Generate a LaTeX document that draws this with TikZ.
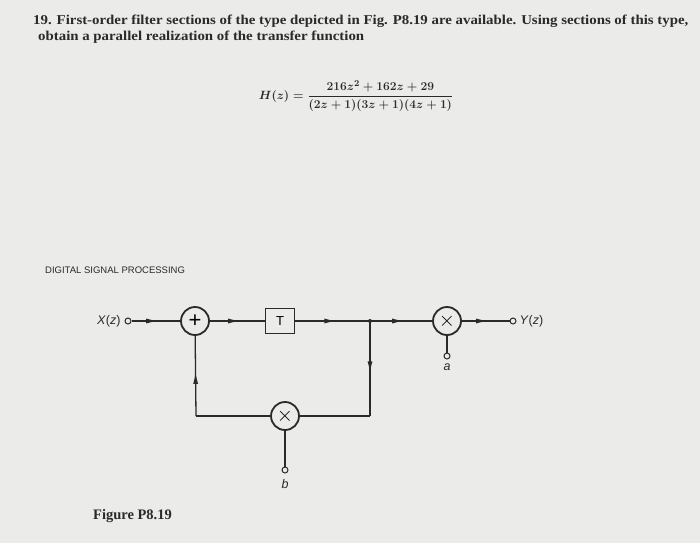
\documentclass[tikz,border=0pt]{standalone}
\usepackage{fontspec}
\setmainfont{Liberation Serif}
\newfontfamily\sansf{Liberation Sans}
\newfontfamily\hdr[FakeStretch=1.1]{Liberation Serif}
\usetikzlibrary{arrows.meta,decorations.markings}
\definecolor{bg}{HTML}{EBEBEA}
\definecolor{ink}{HTML}{2A2A2A}
\tikzset{
  op/.style={circle,draw=ink,line width=1.8pt,minimum size=28pt,inner sep=0pt,font=\sansf\fontsize{22}{22}\selectfont},
  dbox/.style={draw=ink,line width=1.4pt,minimum width=29pt,minimum height=25pt,font=\sansf\fontsize{13}{13}\selectfont},
  term/.style={circle,draw=ink,line width=1pt,minimum size=6pt,inner sep=0pt},
  wire/.style={draw=ink,line width=1.3pt},
  flow/.style={wire,postaction={decorate},decoration={markings,mark=at position 0.55 with {\arrow{Latex[length=12pt,width=5pt,open]}}}},
  lbl/.style={font=\sansf\fontsize{12.5}{13}\selectfont,text=ink},
  hd/.style={anchor=west,font=\hdr\bfseries\fontsize{13.5}{14}\selectfont,text=ink,inner sep=0},
  eqf/.style={font=\fontsize{12.8}{15}\selectfont\mathversion{bold},text=ink}
}
\begin{document}
\begin{tikzpicture}[x=1pt,y=-1pt]
\fill[bg] (0,0) rectangle (700,543);
\useasboundingbox (0,0) rectangle (700,543);
% header text
\node[hd] (t1) at (33,21) {19. First-order filter sections of the type depicted in Fig. P8.19 are available. Using sections of this type,};
\node[hd] (t2) at (38,37) {obtain a parallel realization of the transfer function};
\node[eqf] (eq) at (356,96) {$\displaystyle H(z)=\frac{216z^2+162z+29}{(2z+1)(3z+1)(4z+1)}$};
\node[anchor=west,font=\sansf\fontsize{9.5}{10}\selectfont,text=ink,inner sep=0] (dsp) at (45,270) {DIGITAL SIGNAL PROCESSING};
\node[anchor=west,font=\bfseries\fontsize{14.5}{15}\selectfont,text=ink,inner sep=0] (fig) at (93,516) {Figure P8.19};
% diagram
\node[term] (xin) at (128,321) {};
\node[lbl,anchor=east] (xl) at (124,321) {\textit{X}(\textit{z})};
\node[op] (add) at (195,321) {+};
\node[dbox] (T) at (280,321) {T};
\coordinate (br) at (370,321);
\fill[ink] (br) circle (2pt);
\node[op] (ma) at (447,321) {$\times$};
\node[term] (yout) at (513,321) {};
\node[lbl,anchor=west] (yl) at (516,321) {\textit{Y}(\textit{z})};
\node[term] (ta) at (447,356) {};
\node[lbl,anchor=north] (al) at (447,360) {\textit{a}};
\node[op] (mb) at (285,416) {$\times$};
\node[term] (tb) at (285,470) {};
\node[lbl,anchor=north] (bl) at (285,476) {\textit{b}};
\coordinate (c1) at (370,416);
\coordinate (c2) at (196,416);
\path[flow] (xin) -- (add);
\path[flow] (add) -- (T);
\path[flow] (T) -- (br);
\path[flow] (br) -- (ma);
\path[flow] (ma) -- (yout);
\path[wire] (ma) -- (ta);
\path[wire] (mb) -- (tb);
\path[flow] (br) -- (c1);
\path[wire] (c1) -- (mb);
\path[wire] (mb) -- (c2);
\path[flow] (c2) -- (add);
\end{tikzpicture}
\end{document}
